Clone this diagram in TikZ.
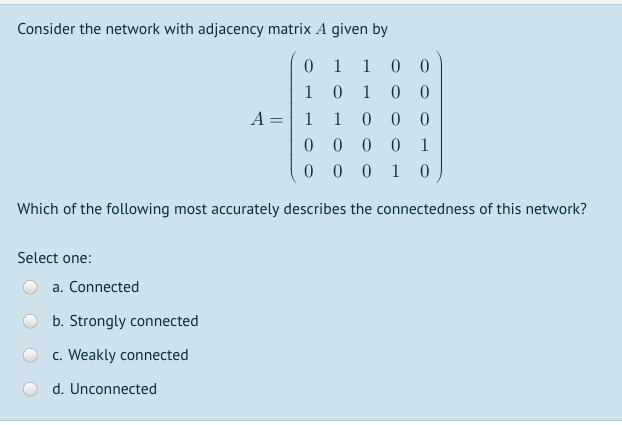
\documentclass[tikz,border=0pt]{standalone}
\usepackage{amsmath}
\usepackage{unicode-math}
\setmainfont{PT Sans}
\setmathfont{Latin Modern Math}
\usetikzlibrary{matrix,positioning}
\definecolor{panelblue}{HTML}{CDE2EC}
\definecolor{paneledge}{HTML}{A9CFDF}
\definecolor{inktext}{HTML}{0B2B3B}
\definecolor{topgrey}{HTML}{F2F2F2}

\begin{document}
\begin{tikzpicture}[x=1pt, y=-1pt,
    qtext/.style={anchor=base west, text=inktext, inner sep=0pt, font=\fontsize{15.7}{18}\selectfont},
    radio/.style={circle, draw=gray!80, top color=white, bottom color=gray!35, minimum size=14pt, inner sep=0pt},
    every left delimiter/.style={text=inktext, inner sep=1pt},
    every right delimiter/.style={text=inktext, inner sep=1pt}]
    % Panel
    \fill[white] (0, 0) rectangle (622, 425);
    \fill[topgrey] (0, 0) rectangle (622, 4);
    \fill[panelblue] (0, 4.5) rectangle (622, 420.5);
    \draw[paneledge] (0, 4.5) -- (622, 4.5);
    \draw[paneledge] (0, 420.5) -- (622, 420.5);

    % Question text
    \node(intro) [qtext] at (17, 35) {Consider the network with adjacency matrix $A$ given by};

    % Adjacency matrix
    \matrix(adj) at (367, 119) [matrix of math nodes, left delimiter=(, right delimiter=),
        nodes={minimum width=12pt, minimum height=25pt, inner sep=0pt, text=inktext, font=\fontsize{19}{22}\selectfont},
        column sep=17pt, row sep=1pt] {
        0 & 1 & 1 & 0 & 0 \\
        1 & 0 & 1 & 0 & 0 \\
        1 & 1 & 0 & 0 & 0 \\
        0 & 0 & 0 & 0 & 1 \\
        0 & 0 & 0 & 1 & 0 \\
    };
    \node(lhs) [left=15pt of adj, inner sep=0pt, text=inktext, font=\fontsize{19}{22}\selectfont] {$A =$};

    \node(ask) [qtext] at (17, 215) {Which of the following most accurately describes the connectedness of this network?};
    \node(select) [qtext] at (17, 264) {Select one:};

    % Choices
    \node(ra) [radio] at (30, 287.5) {};
    \node(ta) [qtext] at (52, 293) {a. Connected};
    \node(rb) [radio] at (30, 321.5) {};
    \node(tb) [qtext] at (52, 327) {b. Strongly connected};
    \node(rc) [radio] at (30, 355.5) {};
    \node(tc) [qtext] at (52, 361) {c. Weakly connected};
    \node(rd) [radio] at (30, 389.5) {};
    \node(td) [qtext] at (52, 395) {d. Unconnected};
\end{tikzpicture}
\end{document}
